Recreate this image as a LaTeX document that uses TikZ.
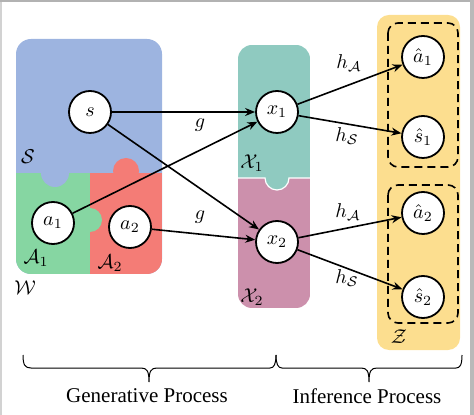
\documentclass[tikz,border=0pt]{standalone}
\usepackage{fontspec}
\setmainfont{Liberation Serif}
\usetikzlibrary{arrows.meta}
\definecolor{cS}{HTML}{9DB4E0}
\definecolor{cAone}{HTML}{86D6A2}
\definecolor{cAtwo}{HTML}{F47C76}
\definecolor{cXone}{HTML}{8FCAC0}
\definecolor{cXtwo}{HTML}{CC90AC}
\definecolor{cZ}{HTML}{FCDE8F}
\begin{document}
\begin{tikzpicture}[x=0.5pt,y=-0.5pt,
  var/.style={circle,draw,line width=0.9pt,fill=white,minimum size=21pt,inner sep=0pt},
  arr/.style={-{Stealth[length=5pt,width=4pt]},line width=0.8pt},
  lbl/.style={inner sep=0pt},
  dbox/.style={draw,line width=0.8pt,dash pattern=on 4pt off 2.5pt,rounded corners=5pt},
  brc/.style={draw,line width=0.5pt}]
\useasboundingbox (0,0) rectangle (474,415);
% frame
\fill[gray!35] (0,0) rectangle (2,415);
\fill[gray!60] (0,0) rectangle (474,2);
\fill[gray!55] (470,0) rectangle (474,415);
% W block
\fill[cS,rounded corners=7.5pt] (16,39) rectangle (162,274);
\begin{scope}
  \clip[rounded corners=7.5pt] (16,39) rectangle (162,274);
  \fill[cAone] (16,173) rectangle (90,274);
  \fill[cAtwo] (90,173) rectangle (162,274);
  \fill[cS] (55,173) circle (7pt);
  \fill[cAtwo] (126,171) circle (6.5pt);
  \fill[cAone] (90,220) circle (6pt);
\end{scope}
% X block
\begin{scope}
  \clip[rounded corners=7pt] (238,45) rectangle (310,308);
  \fill[cXone] (238,45) rectangle (310,178);
  \fill[cXtwo] (238,178) rectangle (310,308);
  \fill[cXone] (277,178) circle (6pt);
  \draw[white,line width=0.6pt] (238,178) -- (265,178) arc[start angle=180,end angle=360,radius=6pt] -- (310,178);
\end{scope}
% Z block
\fill[cZ,rounded corners=6pt] (377,15) rectangle (460,350);
\draw[dbox] (388,23) rectangle (458,167);
\draw[dbox] (388,185) rectangle (458,323);
% nodes
\node[var] (s) at (90,112) {$s$};
\node[var] (a1) at (53,223) {$a_1$};
\node[var] (a2) at (130,227) {$a_2$};
\node[var] (x1) at (277,112) {$x_1$};
\node[var] (x2) at (277,242) {$x_2$};
\node[var] (ha1) at (423,57) {$\hat{a}_1$};
\node[var] (hs1) at (423,137) {$\hat{s}_1$};
\node[var] (ha2) at (423,213) {$\hat{a}_2$};
\node[var] (hs2) at (423,297) {$\hat{s}_2$};
% region labels
\node[lbl] (lS) at (28,157) {$\mathcal{S}$};
\node[lbl] (lA1) at (36,258) {$\mathcal{A}_1$};
\node[lbl] (lA2) at (110,263) {$\mathcal{A}_2$};
\node[lbl] (lW) at (25,288) {$\mathcal{W}$};
\node[lbl] (lX1) at (252,163) {$\mathcal{X}_1$};
\node[lbl] (lX2) at (252,297) {$\mathcal{X}_2$};
\node[lbl] (lZ) at (399,337) {$\mathcal{Z}$};
% connectors
\draw[arr] (s) -- (x1);
\draw[arr] (s) -- (x2);
\draw[arr] (a1) -- (x1);
\draw[arr] (a2) -- (x2);
\draw[arr] (x1) -- (ha1);
\draw[arr] (x1) -- (hs1);
\draw[arr] (x2) -- (ha2);
\draw[arr] (x2) -- (hs2);
\node[lbl] (g1) at (200,125) {$g$};
\node[lbl] (g2) at (200,217) {$g$};
\node[lbl] (h1) at (349,63) {$h_{\mathcal{A}}$};
\node[lbl] (h2) at (347,136) {$h_{\mathcal{S}}$};
\node[lbl] (h3) at (348,212) {$h_{\mathcal{A}}$};
\node[lbl] (h4) at (347,278) {$h_{\mathcal{S}}$};
% braces
\draw[brc] (23,355) .. controls (23,365) and (25,368) .. (31,368) -- (141,368)
  .. controls (147,368) and (149,371) .. (149,382)
  .. controls (149,371) and (151,368) .. (157,368) -- (270,368)
  .. controls (274,368) and (276,364) .. (276,355);
\draw[brc] (276,355) .. controls (276,364) and (278,368) .. (282,368) -- (361,368)
  .. controls (367,368) and (369,371) .. (369,382)
  .. controls (369,371) and (371,368) .. (377,368) -- (456,368)
  .. controls (460,368) and (462,365) .. (462,355);
\node[lbl] (gen) at (147,396) {\fontsize{10.5pt}{12pt}\selectfont Generative Process};
\node[lbl] (inf) at (367,396) {\fontsize{10.5pt}{12pt}\selectfont Inference Process};
\end{tikzpicture}
\end{document}
